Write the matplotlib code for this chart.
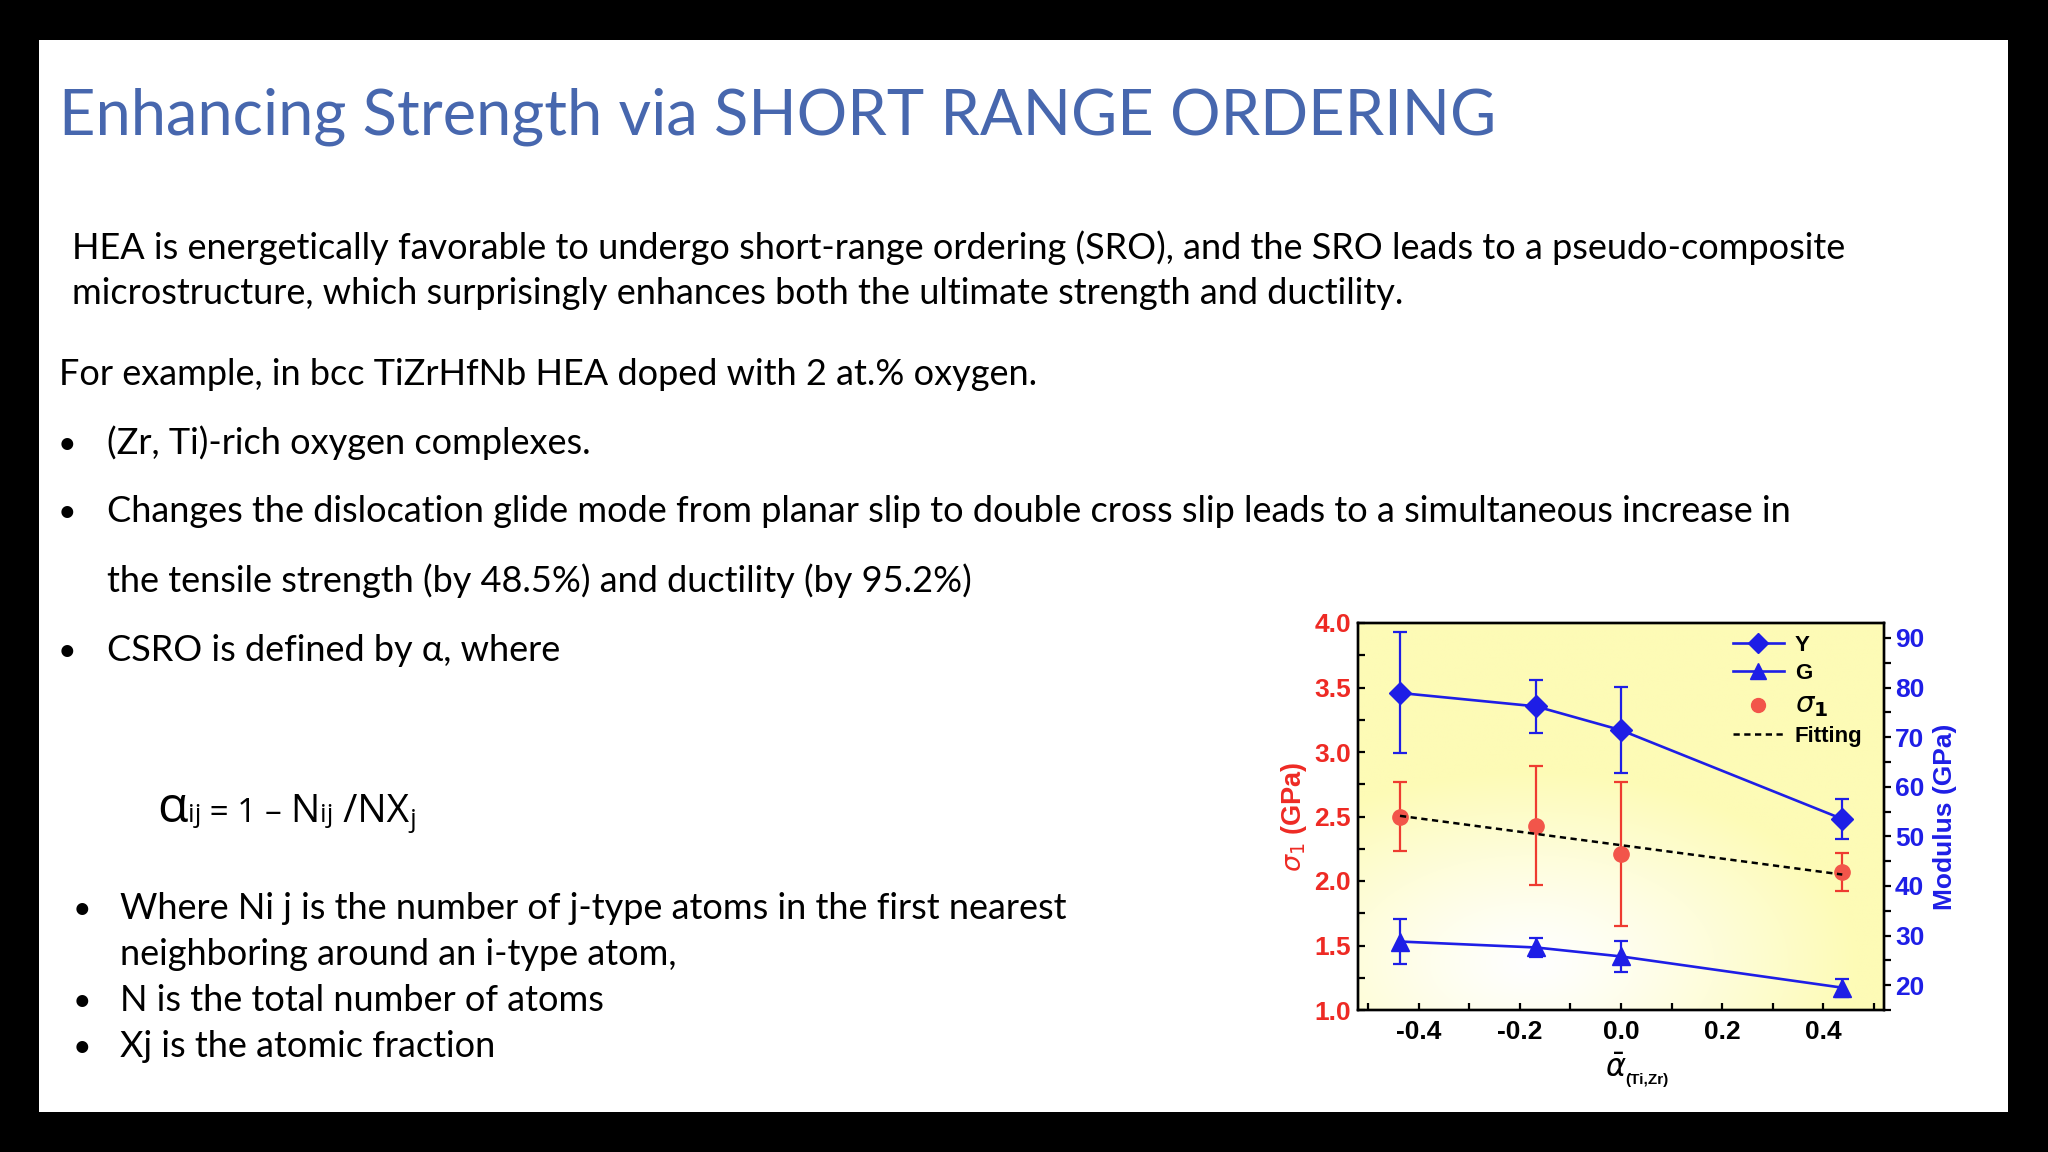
import numpy as np
import matplotlib
matplotlib.use("Agg")
import matplotlib.pyplot as plt
from matplotlib.patches import Rectangle
from matplotlib.lines import Line2D

# ---- chart data ----
alpha = [-0.437, -0.168, 0.0, 0.4375]
Y_mod = [78.9, 76.2, 71.4, 53.5]
Y_err = [12.2, 5.3, 8.7, 4.0]
G_mod = [28.8, 27.6, 25.8, 19.5]
G_err = [4.6, 2.0, 3.2, 1.8]
sigma1 = [2.50, 2.43, 2.21, 2.07]
sigma1_err = [0.27, 0.46, 0.56, 0.15]
fit_x = [-0.437, 0.4375]
fit_y = [2.505, 2.05]

x_ticks = [-0.4, -0.2, 0.0, 0.2, 0.4]
left_ticks = [1.0, 1.5, 2.0, 2.5, 3.0, 3.5, 4.0]
right_ticks = [20, 30, 40, 50, 60, 70, 80, 90]

# ---- slide text ----
title = "Enhancing Strength via SHORT RANGE ORDERING"
intro = ["HEA is energetically favorable to undergo short-range ordering (SRO), and the SRO leads to a pseudo-composite",
         "microstructure, which surprisingly enhances both the ultimate strength and ductility."]
example = "For example, in bcc TiZrHfNb HEA doped with 2 at.% oxygen."
bullets = ["(Zr, Ti)-rich oxygen complexes.",
           "Changes the dislocation glide mode from planar slip to double cross slip leads to a simultaneous increase in",
           "CSRO is defined by \u03b1, where"]
bullet2_cont = "the tensile strength (by 48.5%) and ductility (by 95.2%)"
notes = ["Where Ni j is the number of j-type atoms in the first nearest",
         "N is the total number of atoms",
         "Xj is the atomic fraction"]
note1_cont = "neighboring around an i-type atom,"

W, H = 2048, 1152
BODY = ["Lato", "DejaVu Sans"]
RED = "#EE2A24"
BLUE = "#1E1EE6"

fig = plt.figure(figsize=(W / 100, H / 100), dpi=100, facecolor="black")
fig.patches.append(Rectangle((39 / W, 1 - 1112 / H), (2008 - 39) / W, (1112 - 40) / H,
                             transform=fig.transFigure, facecolor="white", edgecolor="none",
                             zorder=-10))


def px_text(x, y, s, **kw):
    # x, y in pixels from the top-left corner, y is the baseline
    return fig.text(x / W, 1 - y / H, s, va="baseline", **kw)


px_text(59, 135, title, fontsize=45.5, color="#4767AE", family=BODY)

fs = 26
px_text(72, 259, intro[0], fontsize=fs, family=BODY)
px_text(72, 304, intro[1], fontsize=fs, family=BODY)
px_text(59, 385, example, fontsize=fs, family=BODY)

for yb, s in zip([454, 522, 661], bullets):
    px_text(58, yb, "\u2022", fontsize=fs - 3, family=BODY)
    px_text(107, yb, s, fontsize=fs, family=BODY)
px_text(107, 592, bullet2_cont, fontsize=fs, family=BODY)

for yb, s in zip([919, 1011, 1057], notes):
    px_text(73, yb, "\u2022", fontsize=fs - 3, family=BODY)
    px_text(120, yb, s, fontsize=fs, family=BODY)
px_text(120, 965, note1_cont, fontsize=fs, family=BODY)

# formula alpha_ij = 1 - N_ij / N X_j, built piece by piece
renderer = fig.canvas.get_renderer()
formula = [("\u03b1", 36, 0), ("ij", 19, 0), (" = 1 \u2013 ", 24, 0), ("N", 28, 0),
           ("ij", 19, 0), (" /NX", 28, 0), ("j", 19, 5)]
fx = 157
for s, size, dy in formula:
    t = px_text(fx, 822 + dy, s, fontsize=size, family=["Open Sans", "DejaVu Sans"])
    fx += t.get_window_extent(renderer).width

# ---- chart ----
ax = fig.add_axes([1358 / W, 1 - 1010 / H, (1884 - 1358) / W, (1010 - 623) / H])
ax2 = ax.twinx()

# pale yellow background with a whitish patch in the lower left
u, v = np.meshgrid(np.linspace(0, 1, 300), np.linspace(0, 1, 300))
d = np.sqrt(((u - 0.33) / 1.0) ** 2 + ((v - 0.12) / 0.8) ** 2)
tt = np.clip(d / 0.62, 0, 1) ** 1.2
yellow = np.array([253, 251, 182]) / 255
img = np.ones((300, 300, 3)) * (1 - tt[..., None]) + yellow * tt[..., None]
ax.imshow(img, extent=[0, 1, 0, 1], transform=ax.transAxes, origin="lower",
          aspect="auto", zorder=0, interpolation="bilinear")

ax.errorbar(alpha, sigma1, yerr=sigma1_err, fmt="o", color="#F2554A", ms=11,
            ecolor="#EE3B30", elinewidth=1.6, capsize=5, capthick=1.6, zorder=3)
ax.plot(fit_x, fit_y, "--", color="black", lw=1.8, dashes=(2.5, 1.8), zorder=4)

ax2.errorbar(alpha, Y_mod, yerr=Y_err, fmt="-D", color=BLUE, ms=11, lw=1.9,
             elinewidth=1.6, capsize=5, capthick=1.6)
ax2.errorbar(alpha, G_mod, yerr=G_err, fmt="-^", color=BLUE, ms=12.5, lw=1.9,
             elinewidth=1.6, capsize=5, capthick=1.6)

ax.set_xlim(-0.52, 0.52)
ax.set_ylim(1.0, 4.0)
ax2.set_ylim(15, 93)

ax.set_xticks(x_ticks)
ax.set_xticklabels([f"{v:.1f}" for v in x_ticks])
ax.set_xticks(np.arange(-0.5, 0.55, 0.1), minor=True)
ax.set_yticks(left_ticks)
ax.set_yticks(np.arange(1.0, 4.01, 0.25), minor=True)
ax2.set_yticks(right_ticks)
ax2.set_yticks(np.arange(15, 93, 5), minor=True)

for a in (ax, ax2):
    for sp in a.spines.values():
        sp.set_linewidth(1.7)
ax.tick_params(axis="x", which="both", direction="in", length=5, width=1.6, top=False, pad=7)
ax.tick_params(axis="y", which="both", direction="in", length=5, width=1.6, pad=5,
               labelcolor=RED)
ax2.tick_params(axis="y", which="both", direction="out", length=5, width=1.6, pad=3,
                labelcolor=BLUE)
for lab in ax.get_xticklabels() + ax.get_yticklabels() + ax2.get_yticklabels():
    lab.set_family("Liberation Sans")
    lab.set_fontweight("bold")
    lab.set_fontsize(19)

ax.set_ylabel(r"$\sigma_1$ (GPa)", color=RED, fontsize=19.5, fontweight="bold",
              family="Liberation Sans", labelpad=4)
ax2.set_ylabel("Modulus (GPa)", color=BLUE, fontsize=19, fontweight="bold",
               family="Liberation Sans", labelpad=6)
# x label: alpha-bar sits over x = 0, a small subscript runs off to the right
ax.text(0.47, -0.172, r"$\bar{\alpha}$", transform=ax.transAxes,
        fontsize=22, ha="left", va="baseline")
ax.text(0.508, -0.19, "(Ti,Zr)", transform=ax.transAxes, fontsize=11,
        fontweight="bold", family="Liberation Sans", ha="left", va="baseline")

handles = [Line2D([], [], color=BLUE, marker="D", ms=10, lw=1.9),
           Line2D([], [], color=BLUE, marker="^", ms=11.5, lw=1.9),
           Line2D([], [], color="#F2554A", marker="o", ms=10, lw=0),
           Line2D([], [], color="black", ls="--", dashes=(2.5, 1.8), lw=1.8)]
labels = ["Y", "G", r"$\sigma_\mathbf{1}$", "Fitting"]
leg = ax2.legend(handles, labels, loc="upper right", bbox_to_anchor=(0.997, 1.02),
                 frameon=False, handlelength=2.3, handletextpad=0.5, labelspacing=0.3,
                 prop={"family": "Liberation Sans", "weight": "bold", "size": 16})
leg.get_texts()[2].set_fontsize(21)

fig.savefig("out.png", dpi=100, facecolor=fig.get_facecolor())
